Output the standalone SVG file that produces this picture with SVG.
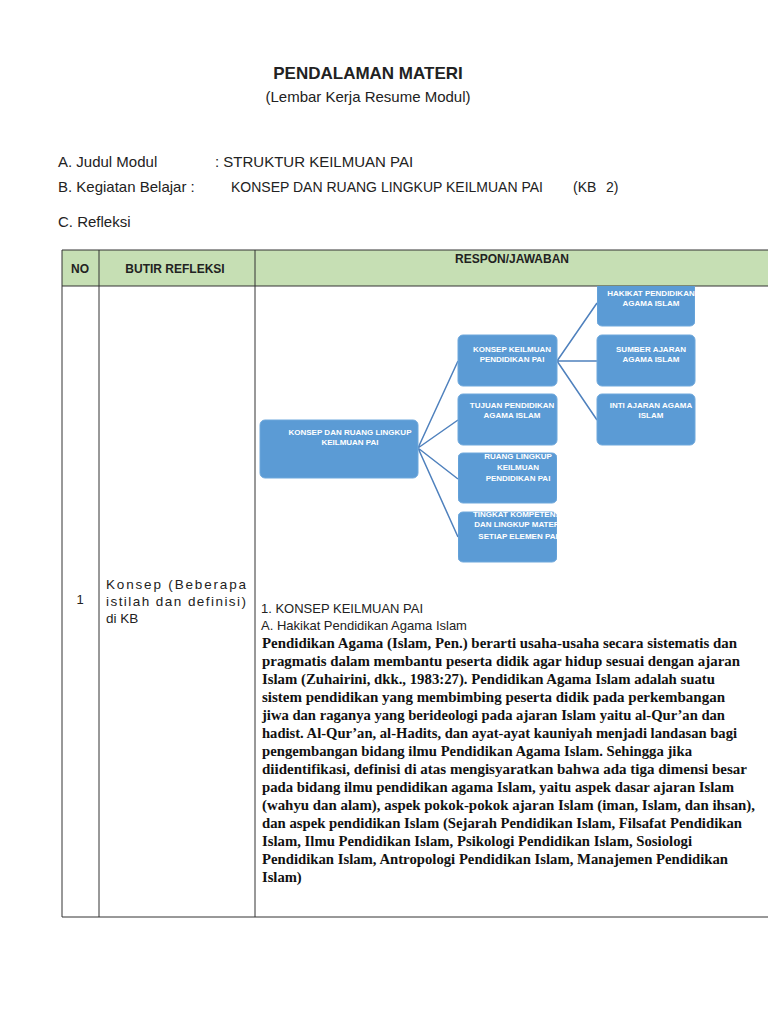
<svg xmlns="http://www.w3.org/2000/svg" width="768" height="1024" viewBox="0 0 768 1024">
<style>
.s{font-family:"Liberation Sans",Arial,sans-serif;fill:#222}
.b{font-family:"Liberation Serif","DejaVu Serif",serif;font-size:14.6px;fill:#111;font-weight:bold}
.bx{fill:#5b9bd5;stroke:#6fa8dc;stroke-width:1}
.bt{font-family:"Liberation Sans",Arial,sans-serif;font-size:8px;fill:#fff;font-weight:bold;text-anchor:middle}
.ln{stroke:#4f81bd;stroke-width:1.5;fill:none}
.g{stroke:#333;stroke-width:1;fill:none}
</style>
<defs>
<clipPath id="cm"><rect x="458" y="286" width="99" height="280"/></clipPath>
<clipPath id="cr"><rect x="597" y="286" width="98" height="170"/></clipPath>
</defs>
<rect width="768" height="1024" fill="#fff"/>
<text class="s" x="368" y="79" font-size="17" font-weight="bold" text-anchor="middle">PENDALAMAN MATERI</text>
<text class="s" x="368" y="102" font-size="15" text-anchor="middle">(Lembar Kerja  Resume Modul)</text>
<text class="s" x="58" y="167" font-size="15">A. Judul Modul</text>
<text class="s" x="215" y="167" font-size="15">: STRUKTUR KEILMUAN PAI</text>
<text class="s" x="58" y="192" font-size="15">B. Kegiatan Belajar :</text>
<text class="s" x="231" y="192" font-size="14">KONSEP DAN RUANG LINGKUP KEILMUAN PAI</text>
<text class="s" x="573" y="192" font-size="14">(KB</text>
<text class="s" x="606" y="192" font-size="14">2)</text>
<text class="s" x="58" y="227" font-size="15">C. Refleksi</text>
<g id="table">
<rect x="62" y="250" width="720" height="36" fill="#c6dfb4"/>
<path class="g" d="M62 250H782M62 286H782M62 917H782M62 250V917M99 250V917M255 250V917"/>
<text class="s" x="80" y="273" font-size="12" font-weight="bold" text-anchor="middle">NO</text>
<text class="s" x="175" y="273" font-size="12" font-weight="bold" text-anchor="middle">BUTIR REFLEKSI</text>
<text class="s" x="512" y="263" font-size="12" font-weight="bold" text-anchor="middle">RESPON/JAWABAN</text>
<text class="s" x="80" y="604" font-size="13" text-anchor="middle">1</text>
<text class="s" x="106" y="589" font-size="13.5" textLength="140" lengthAdjust="spacing">Konsep (Beberapa</text>
<text class="s" x="106" y="606" font-size="13.5" textLength="140" lengthAdjust="spacing">istilah dan definisi)</text>
<text class="s" x="106" y="623" font-size="13.5">di KB</text>
</g>
<g id="connectors">
<path class="ln" d="M418 448L458 361M418 448L458 420M418 448L458 479M418 448L458 537M557 361L597 303M557 361H597M557 361L597 420"/>
</g>
<g id="n-root"><rect class="bx" x="260" y="420" width="158" height="58" rx="5"/>
<text class="bt" x="350" y="435">KONSEP DAN RUANG LINGKUP</text><text class="bt" x="350" y="445">KEILMUAN PAI</text></g>
<g id="n-konsep"><rect class="bx" x="458" y="335" width="99" height="51" rx="5"/>
<text class="bt" x="512" y="352">KONSEP KEILMUAN</text><text class="bt" x="512" y="362">PENDIDIKAN PAI</text></g>
<g id="n-tujuan"><rect class="bx" x="458" y="394" width="99" height="51" rx="5"/>
<text class="bt" x="512" y="408">TUJUAN PENDIDIKAN</text><text class="bt" x="512" y="418">AGAMA ISLAM</text></g>
<g id="n-ruang" clip-path="url(#cm)"><rect class="bx" x="458" y="453" width="99" height="50" rx="5"/>
<text class="bt" x="518" y="459">RUANG LINGKUP</text><text class="bt" x="518" y="470">KEILMUAN</text><text class="bt" x="518" y="481">PENDIDIKAN PAI</text></g>
<g id="n-tingkat" clip-path="url(#cm)"><rect class="bx" x="458" y="512" width="99" height="50" rx="5"/>
<text class="bt" x="518" y="517">TINGKAT KOMPETENSI</text><text class="bt" x="518" y="527">DAN LINGKUP MATERI</text><text class="bt" x="518" y="539">SETIAP  ELEMEN PAI</text></g>
<g id="n-hakikat" clip-path="url(#cr)"><rect class="bx" x="597" y="280" width="98" height="46" rx="5"/>
<text class="bt" x="651" y="296">HAKIKAT PENDIDIKAN</text><text class="bt" x="651" y="306">AGAMA ISLAM</text></g>
<g id="n-sumber"><rect class="bx" x="597" y="335" width="98" height="51" rx="5"/>
<text class="bt" x="651" y="352">SUMBER AJARAN</text><text class="bt" x="651" y="362">AGAMA ISLAM</text></g>
<g id="n-inti"><rect class="bx" x="597" y="394" width="98" height="51" rx="5"/>
<text class="bt" x="651" y="408">INTI AJARAN AGAMA</text><text class="bt" x="651" y="418">ISLAM</text></g>
<g id="body">
<text class="s" x="261" y="613" font-size="13">1. KONSEP KEILMUAN PAI</text>
<text class="s" x="261" y="630" font-size="13">A. Hakikat Pendidikan Agama Islam</text>
<text class="b" x="262" y="648" textLength="475" lengthAdjust="spacingAndGlyphs">Pendidikan Agama (Islam, Pen.) berarti usaha-usaha secara sistematis dan</text>
<text class="b" x="262" y="666" textLength="478" lengthAdjust="spacingAndGlyphs">pragmatis dalam membantu peserta didik agar hidup sesuai dengan ajaran</text>
<text class="b" x="262" y="684" textLength="453" lengthAdjust="spacingAndGlyphs">Islam (Zuhairini, dkk., 1983:27). Pendidikan Agama Islam adalah suatu</text>
<text class="b" x="262" y="702" textLength="463" lengthAdjust="spacingAndGlyphs">sistem pendidikan yang membimbing peserta didik pada perkembangan</text>
<text class="b" x="262" y="720" textLength="463" lengthAdjust="spacingAndGlyphs">jiwa dan raganya yang berideologi pada ajaran Islam yaitu al-Qur’an dan</text>
<text class="b" x="262" y="738" textLength="475" lengthAdjust="spacingAndGlyphs">hadist. Al-Qur’an, al-Hadits, dan ayat-ayat kauniyah menjadi landasan bagi</text>
<text class="b" x="262" y="756" textLength="430" lengthAdjust="spacingAndGlyphs">pengembangan bidang ilmu Pendidikan Agama Islam. Sehingga jika</text>
<text class="b" x="262" y="774" textLength="485" lengthAdjust="spacingAndGlyphs">diidentifikasi, definisi di atas mengisyaratkan bahwa ada tiga dimensi besar</text>
<text class="b" x="262" y="792" textLength="472" lengthAdjust="spacingAndGlyphs">pada bidang ilmu pendidikan agama Islam, yaitu aspek dasar ajaran Islam</text>
<text class="b" x="262" y="810" textLength="493" lengthAdjust="spacingAndGlyphs">(wahyu dan alam), aspek pokok-pokok ajaran Islam (iman, Islam, dan ihsan),</text>
<text class="b" x="262" y="828" textLength="480" lengthAdjust="spacingAndGlyphs">dan aspek pendidikan Islam (Sejarah Pendidikan Islam, Filsafat Pendidikan</text>
<text class="b" x="262" y="846" textLength="430" lengthAdjust="spacingAndGlyphs">Islam, Ilmu Pendidikan Islam, Psikologi Pendidikan Islam, Sosiologi</text>
<text class="b" x="262" y="864" textLength="466" lengthAdjust="spacingAndGlyphs">Pendidikan Islam, Antropologi Pendidikan Islam, Manajemen Pendidikan</text>
<text class="b" x="262" y="882">Islam)</text>
</g>
</svg>
